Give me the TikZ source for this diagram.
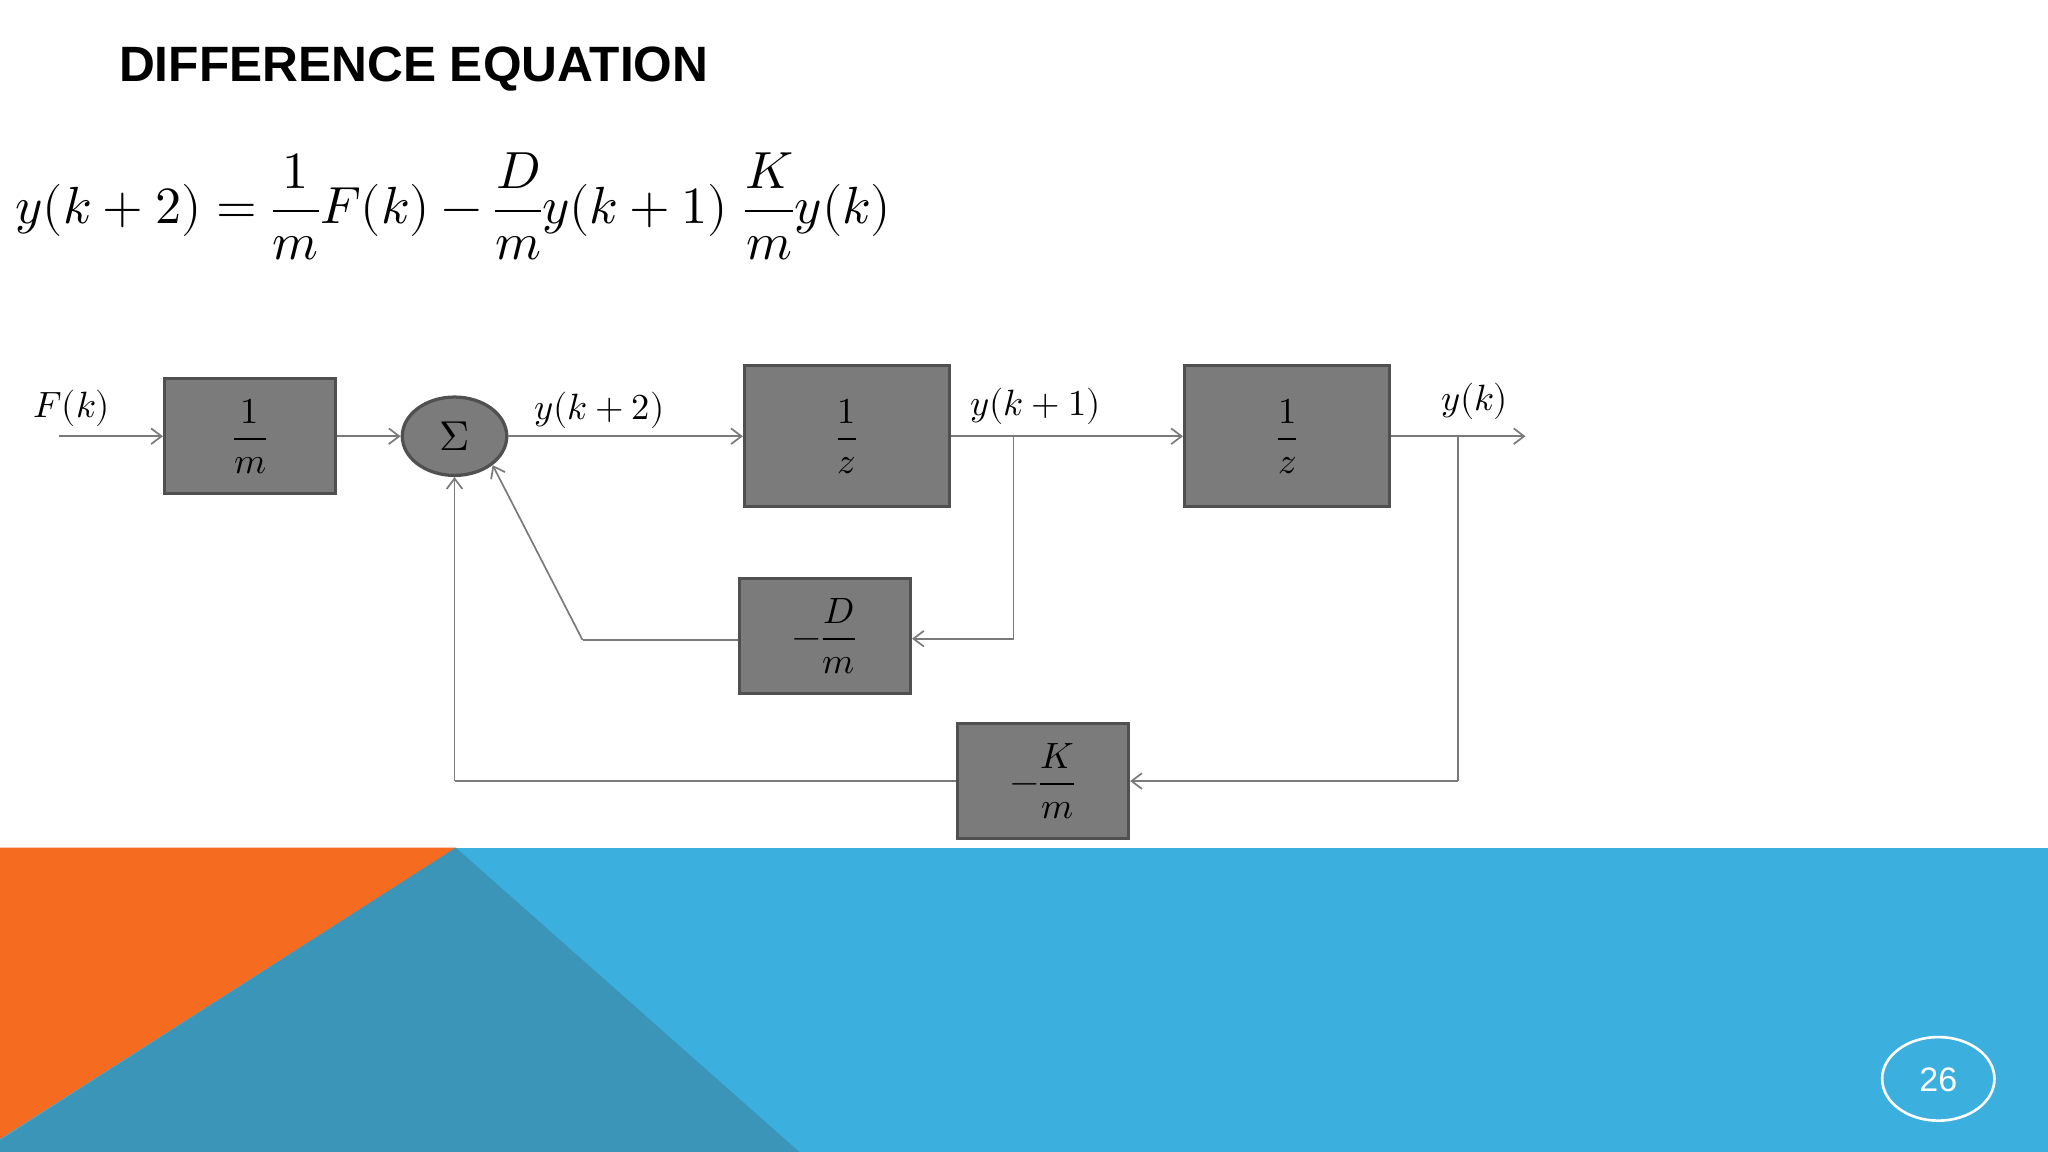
\documentclass[tikz,border=0pt]{standalone}
\usepackage{amsmath}
\usepackage{fontspec}
\usepackage{unicode-math}
\setmathfont{Latin Modern Math}
\setsansfont{Liberation Sans}
\usetikzlibrary{shapes.geometric,arrows.meta}
\definecolor{boxfill}{HTML}{7B7B7B}
\definecolor{boxdraw}{HTML}{505050}
\definecolor{linec}{HTML}{7A7A7A}
\definecolor{blu}{HTML}{3BB0DF}
\definecolor{teal}{HTML}{3A95B8}
\definecolor{orng}{HTML}{F56B1F}
\begin{document}
\begin{tikzpicture}[x=1pt,y=-1pt,
  blk/.style={draw=boxdraw,fill=boxfill,line width=2.5pt,inner sep=0pt},
  conn/.style={draw=linec,line width=1.3pt,-{Straight Barb[length=8pt,width=12pt]}},
  plain/.style={draw=linec,line width=1.3pt},
  lbl/.style={font=\fontsize{28}{32}\selectfont},
  bx/.style={font=\fontsize{28}{32}\selectfont}]
\useasboundingbox (0,0) rectangle (1568,882);
\fill[white] (0,0) rectangle (1568,882);
% background bottom
\fill[blu] (0,649) rectangle (1568,882);
\fill[orng] (0,649) -- (349,649) -- (0,872) -- cycle;
\fill[teal] (349,649) -- (612,882) -- (0,882) -- (0,873) -- cycle;
\draw[white,line width=2pt] (1484,826) ellipse [x radius=43, y radius=32];
\node[white,font=\sffamily\fontsize{26}{30}\selectfont] (pg) at (1484,827) {26};
% title
\node[anchor=west,font=\sffamily\bfseries\fontsize{38}{44}\selectfont,inner sep=0pt] (title) at (91,53) {DIFFERENCE EQUATION};
% equation
\node[anchor=west,inner sep=0pt,font=\fontsize{40}{46}\selectfont] (eq) at (12,158)
 {$y(k+2)=\dfrac{1}{m}F(k)-\dfrac{D}{m}y(k+1)\ \dfrac{K}{m}y(k)$};
% blocks
\node[blk,minimum width=131,minimum height=88] (b1) at (191.5,334) {};
\node[bx] at (b1) {$\dfrac{1}{m}$};
\node[blk,ellipse,minimum width=80,minimum height=60] (sum) at (348,334) {};
\node[font=\fontsize{32}{36}\selectfont] at (sum) {$\Sigma$};
\node[blk,minimum width=157,minimum height=108] (b2) at (648.5,334) {};
\node[bx] at (b2) {$\dfrac{1}{z}$};
\node[blk,minimum width=157,minimum height=108] (b3) at (985.5,334) {};
\node[bx] at (b3) {$\dfrac{1}{z}$};
\node[blk,minimum width=131,minimum height=88] (bd) at (631.5,487) {};
\node[bx] at (bd) {$-\dfrac{D}{m}$};
\node[blk,minimum width=131,minimum height=88] (bk) at (798.5,598) {};
\node[bx] at (bk) {$-\dfrac{K}{m}$};
% labels
\node[lbl] (lf) at (55,313) {$F(k)$};
\node[lbl] (l2) at (459,314) {$y(k+2)$};
\node[lbl] (l1) at (793,311) {$y(k+1)$};
\node[lbl] (l0) at (1129,307) {$y(k)$};
% coordinates
\coordinate (in) at (45,334);
\coordinate (out) at (1168,334);
\coordinate (j1) at (776,334);
\coordinate (j1b) at (776,489);
\coordinate (dc) at (446,490);
\coordinate (j0) at (1116,334);
\coordinate (j0b) at (1116,598);
\coordinate (kc) at (348,598);
% connectors
\draw[conn] (in) -- (b1.west);
\draw[conn] (b1.east) -- (sum.west);
\draw[conn] (sum.east) -- (b2.west);
\draw[conn] (b2.east) -- (b3.west);
\draw[conn] (b3.east) -- (out);
\draw[plain] (j1) -- (j1b);
\draw[conn] (j1b) -- (bd.east |- j1b);
\draw[plain] (bd.west |- dc) -- (dc);
\draw[conn] (dc) -- (sum.south east);
\draw[plain] (j0) -- (j0b);
\draw[conn] (j0b) -- (bk.east);
\draw[plain] (bk.west) -- (kc);
\draw[conn] (kc) -- (sum.south);
\end{tikzpicture}
\end{document}
